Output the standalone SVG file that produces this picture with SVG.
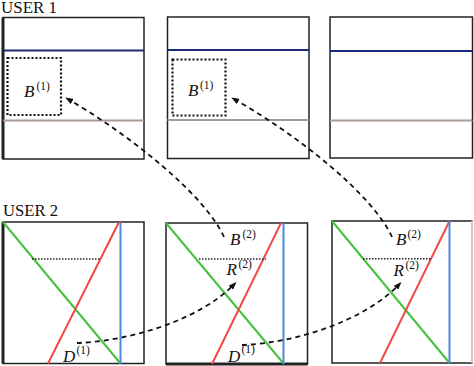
<svg xmlns="http://www.w3.org/2000/svg" width="474" height="366" viewBox="0 0 474 366">
<defs>
<style>
.frame{fill:#fff;stroke:#222;stroke-width:1.5}
.thick{stroke:#222;stroke-width:3}
.navy{stroke:#1c2a7a;stroke-width:2}
.taupe{stroke:#a89a94;stroke-width:2}
.green{stroke:#44c23a;stroke-width:2}
.red{stroke:#ee4a4a;stroke-width:2}
.blue{stroke:#4a88dc;stroke-width:2}
.dotline{stroke:#222;stroke-width:1.5;stroke-dasharray:1.5,1.5;fill:none}
.dotbox{stroke:#111;stroke-width:2.2;stroke-dasharray:2,2;fill:none}
.dash{stroke:#111;stroke-width:1.8;stroke-dasharray:5,4;fill:none;marker-end:url(#ah)}
.title{font-family:'Liberation Serif','DejaVu Serif','Times New Roman',serif;font-size:16px;fill:#111}
.m{font-family:'Liberation Serif','DejaVu Serif','Times New Roman',serif;font-style:italic;font-size:17px;fill:#111}
.s{font-family:'Liberation Serif','DejaVu Serif','Times New Roman',serif;font-size:11.5px;fill:#111}
</style>
<marker id="ah" viewBox="0 0 8 6" refX="6" refY="3" markerWidth="8" markerHeight="6" markerUnits="userSpaceOnUse" orient="auto">
<path d="M0,0 L8,3 L0,6 z" fill="#111"/>
</marker>
</defs>
<rect width="474" height="366" fill="#fff"/>
<text class="title" x="1" y="12.5" textLength="56" lengthAdjust="spacingAndGlyphs">USER 1</text>
<text class="title" x="3" y="216" textLength="55" lengthAdjust="spacingAndGlyphs">USER 2</text>

<g id="u1-p1">
<rect class="frame" x="3" y="17.5" width="141" height="141.5"/>
<line class="thick" x1="3" y1="17.5" x2="3" y2="159"/>
<line class="navy" x1="3" y1="50.5" x2="144" y2="50.5"/>
<line class="taupe" x1="3" y1="120.5" x2="144" y2="120.5"/>
<rect class="dotbox" x="7.5" y="58" width="53.5" height="57"/>
<text class="m" x="24" y="97">B</text><text class="s" x="36.5" y="90">(1)</text>
</g>
<g id="u1-p2">
<rect class="frame" x="167.5" y="17" width="141.5" height="141.5"/>
<line class="navy" x1="167.5" y1="50" x2="309" y2="50"/>
<line class="taupe" x1="167.5" y1="120" x2="309" y2="120"/>
<rect class="dotbox" x="172.5" y="59.5" width="53" height="56"/>
<text class="m" x="188" y="96">B</text><text class="s" x="200" y="89">(1)</text>
</g>
<g id="u1-p3">
<rect class="frame" x="330" y="17" width="142.5" height="141"/>
<line class="navy" x1="330" y1="51" x2="472.5" y2="51"/>
<line class="taupe" x1="330" y1="120.5" x2="472.5" y2="120.5"/>
</g>

<g id="u2-p1">
<rect class="frame" x="3" y="222" width="141" height="141.5"/>
<line class="thick" x1="3" y1="222" x2="3" y2="363.5"/>
<line class="green" x1="3" y1="222" x2="120.5" y2="363.5"/>
<line class="red" x1="119" y1="222" x2="48" y2="363.5"/>
<line class="blue" x1="120.5" y1="222" x2="120.5" y2="363.5"/>
<line class="dotline" x1="32" y1="259" x2="100" y2="259"/>
<text class="m" x="63" y="362">D</text><text class="s" x="76.5" y="354">(1)</text>
</g>
<g id="u2-p2">
<rect class="frame" x="166" y="223" width="141.5" height="141"/>
<line class="thick" x1="166" y1="364" x2="307.5" y2="364"/>
<line class="green" x1="166" y1="223" x2="284" y2="364"/>
<line class="red" x1="281" y1="223" x2="212" y2="364"/>
<line class="blue" x1="283.5" y1="223" x2="283.5" y2="364"/>
<line class="dotline" x1="199" y1="259" x2="266" y2="259"/>
<text class="m" x="230" y="245">B</text><text class="s" x="242.5" y="238">(2)</text>
<text class="m" x="226.5" y="275">R</text><text class="s" x="238.5" y="268">(2)</text>
<text class="m" x="228" y="361.5">D</text><text class="s" x="241.5" y="353">(1)</text>
</g>
<g id="u2-p3">
<rect class="frame" x="332" y="221" width="140" height="142"/>
<line x1="472" y1="221" x2="472" y2="363" stroke="#c8c8c8" stroke-width="2"/>
<line class="green" x1="332" y1="221" x2="449.5" y2="363"/>
<line class="red" x1="449.5" y1="221" x2="380" y2="363"/>
<line class="blue" x1="449.5" y1="221" x2="449.5" y2="363"/>
<line class="dotline" x1="363" y1="258.7" x2="431" y2="258.7"/>
<text class="m" x="396" y="245">B</text><text class="s" x="407.5" y="238">(2)</text>
<text class="m" x="393.5" y="276">R</text><text class="s" x="405.5" y="269">(2)</text>
</g>

<g id="connectors">
<path class="dash" d="M224,237 C205,195 130,135 67,98.5"/>
<path class="dash" d="M392,237 C373,195 298,135 233,98.5"/>
<path class="dash" d="M77,343 C130,341 200,320 235,283.5"/>
<path class="dash" d="M242,345 C295,343 365,321 400,283.5"/>
</g>
</svg>
